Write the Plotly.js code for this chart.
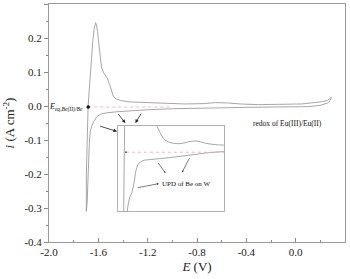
<!DOCTYPE html>
<html>
<head>
<meta charset="utf-8">
<script src="https://cdn.plot.ly/plotly-3.0.1.min.js"></script>
<style>html,body{margin:0;padding:0;background:#fff;}#chart{width:350px;height:279px;}</style>
</head>
<body>
<div id="chart"></div>
<script>
// Cathodic sweep (0.29 V -> -1.695 V)
var E_cath = [0.29, 0.28, 0.26, 0.24, 0.2, 0.1, 0.0, -0.2, -0.4, -0.6, -0.8, -1.0, -1.2, -1.35, -1.45, -1.53, -1.58, -1.611, -1.638, -1.655, -1.665, -1.672, -1.675, -1.684, -1.690, -1.695];
var i_cath = [0.025, 0.016, 0.009, 0.006, 0.002, -0.002, -0.003, -0.003, -0.004, -0.005, -0.006, -0.008, -0.011, -0.014, -0.017, -0.020, -0.024, -0.031, -0.046, -0.060, -0.075, -0.100, -0.148, -0.217, -0.280, -0.310];
// Anodic sweep (-1.697 V -> 0.29 V)
var E_anod = [-1.697, -1.697, -1.693, -1.688, -1.683, -1.675, -1.665, -1.655, -1.645, -1.635, -1.622, -1.615, -1.607, -1.598, -1.588, -1.575, -1.56, -1.543, -1.525, -1.51, -1.495, -1.48, -1.46, -1.42, -1.35, -1.25, -1.1, -0.9, -0.75, -0.65, -0.55, -0.45, -0.3, -0.1, 0.05, 0.15, 0.22, 0.26, 0.28, 0.29];
var i_anod = [-0.310, -0.200, -0.100, -0.030, 0.000, 0.040, 0.080, 0.140, 0.190, 0.225, 0.245, 0.238, 0.220, 0.190, 0.145, 0.115, 0.100, 0.090, 0.080, 0.065, 0.045, 0.030, 0.022, 0.016, 0.012, 0.011, 0.008, 0.006, 0.007, 0.010, 0.009, 0.006, 0.004, 0.004, 0.006, 0.010, 0.013, 0.017, 0.022, 0.026];
// Equilibrium potential marker and reference line
var E_eq = [-1.682];
var i_eq = [-0.003];
var E_eqLine = [-1.682, -1.0];
var i_eqLine = [-0.003, -0.003];

// Inset (magnified view)
var E_in_anodRise = [-1.6985, -1.6950];
var i_in_anodRise = [-0.090, 0.040];
var E_in_anodDecay = [-1.5667, -1.5587, -1.5469, -1.535, -1.5152, -1.4756, -1.436, -1.4082, -1.3765, -1.3369, -1.3012];
var i_in_anodDecay = [0.040, 0.0339, 0.0247, 0.0186, 0.0148, 0.0132, 0.0163, 0.0171, 0.0140, 0.0117, 0.0109];
var E_in_upd = [-1.3012, -1.3567, -1.436, -1.5152, -1.5944, -1.6221, -1.638, -1.6459, -1.6519, -1.6558, -1.6598, -1.6657, -1.6736, -1.6796, -1.6843];
var i_in_upd = [0.0010, -0.0005, -0.0044, -0.0082, -0.0113, -0.0128, -0.0166, -0.0228, -0.0319, -0.0426, -0.0518, -0.0610, -0.0686, -0.0778, -0.0900];
var E_in_eq = [-1.6896];
var i_in_eq = [0.0];
var E_in_eqLine = [-1.6896, -1.30];
var i_in_eqLine = [0.0, 0.0];

var xTickVals = [-2.0, -1.6, -1.2, -0.8, -0.4, 0.0, 0.4];
var xTickText = ['-2.0', '-1.6', '-1.2', '-0.8', '-0.4', '0.0', '0.4'];
var yTickVals = [-0.4, -0.3, -0.2, -0.1, 0.0, 0.1, 0.2, 0.3];
var yTickText = ['-0.4', '-0.3', '-0.2', '-0.1', '0.0', '0.1', '0.2', '0.3'];

var serif = "'Liberation Serif'";
var curveColor = '#9c9c9c';
var redColor = '#f2a6a6';

var traces = [
  {x: E_cath.concat(E_anod), y: i_cath.concat(i_anod), mode: 'lines', line: {color: curveColor, width: 0.9}, hoverinfo: 'skip'},
  {x: E_eqLine, y: i_eqLine, mode: 'lines', line: {color: redColor, width: 0.8, dash: 'dot'}},
  {x: E_eq, y: i_eq, mode: 'markers', marker: {color: '#111', size: 3.5}},
  {x: E_in_anodRise, y: i_in_anodRise, xaxis: 'x2', yaxis: 'y2', mode: 'lines', line: {color: curveColor, width: 0.9}},
  {x: E_in_anodDecay, y: i_in_anodDecay, xaxis: 'x2', yaxis: 'y2', mode: 'lines', line: {color: curveColor, width: 0.9, shape: 'spline'}},
  {x: E_in_upd, y: i_in_upd, xaxis: 'x2', yaxis: 'y2', mode: 'lines', line: {color: curveColor, width: 0.9, shape: 'spline'}},
  {x: E_in_eqLine, y: i_in_eqLine, xaxis: 'x2', yaxis: 'y2', mode: 'lines', line: {color: redColor, width: 0.8, dash: 'dot'}},
  {x: E_in_eq, y: i_in_eq, xaxis: 'x2', yaxis: 'y2', mode: 'markers', marker: {color: '#666', size: 2}}
];

function arrow(x, y, ax, ay, size, width) {
  return {x: x, y: y, xref: 'x', yref: 'y', ax: ax, ay: ay, axref: 'pixel', ayref: 'pixel',
    showarrow: true, arrowhead: 2, arrowsize: size, arrowwidth: width, arrowcolor: '#222', text: ''};
}

var layout = {
  width: 350, height: 279,
  margin: {l: 49, r: 5, t: 4, b: 37},
  paper_bgcolor: '#fff', plot_bgcolor: '#fff',
  showlegend: false,
  font: {family: serif, color: '#222'},
  xaxis: {
    range: [-2.0, 0.4], tickvals: xTickVals, ticktext: xTickText,
    ticks: 'inside', ticklen: 4, tickcolor: '#888', tickwidth: 1,
    minor: {ticks: 'inside', ticklen: 2, dtick: 0.2, tick0: -2.0, tickcolor: '#888'},
    showline: true, linecolor: '#999', linewidth: 1, mirror: true,
    showgrid: false, zeroline: false,
    tickfont: {family: serif, size: 11, color: '#222'},
    title: {text: '<i>E</i> (V)', font: {family: serif, size: 13, color: '#222'}, standoff: 4}
  },
  yaxis: {
    range: [-0.4, 0.3], tickvals: yTickVals, ticktext: yTickText,
    ticks: 'outside', ticklen: 4, tickcolor: '#888', tickwidth: 1,
    minor: {ticks: 'outside', ticklen: 2, dtick: 0.05, tick0: 0, tickcolor: '#888'},
    showline: true, linecolor: '#999', linewidth: 1, mirror: true,
    showgrid: false, zeroline: false,
    tickfont: {family: serif, size: 11, color: '#222'},
    title: {text: '<i>i</i> (A cm<sup>-2</sup>)', font: {family: serif, size: 13, color: '#222'}, standoff: 6}
  },
  xaxis2: {
    domain: [0.234, 0.592], anchor: 'y2', range: [-1.72, -1.30],
    showline: true, linecolor: '#b0b0b0', linewidth: 1, mirror: true,
    showticklabels: false, ticks: '', showgrid: false, zeroline: false
  },
  yaxis2: {
    domain: [0.130, 0.487], anchor: 'x2', range: [-0.09, 0.04],
    showline: true, linecolor: '#b0b0b0', linewidth: 1, mirror: true,
    showticklabels: false, ticks: '', showgrid: false, zeroline: false
  },
  annotations: [
    {x: -1.697, y: -0.0044, xref: 'x', yref: 'y', xanchor: 'right', yanchor: 'middle', showarrow: false, xshift: -1,
     text: '<i>E</i><sub><i>eq,Be(II)/Be</i></sub>', font: {family: serif, size: 8, color: '#111'}},
    {x: -0.066, y: -0.050, xref: 'x', yref: 'y', showarrow: false,
     text: 'redox of Eu(III)/Eu(II)', font: {family: serif, size: 7.5, color: '#111'}},
    {x: -0.890, y: -0.2293, xref: 'x', yref: 'y', showarrow: false,
     text: 'UPD of Be on W', font: {family: serif, size: 7, color: '#111'}},
    arrow(-1.4485, -0.0748, -18.4, -5.7, 0.9, 0.8),
    arrow(-1.381, -0.0502, -8.3, -10.6, 0.9, 0.8),
    arrow(-1.300, -0.0502, 6.7, -11, 0.9, 0.8),
    arrow(-1.1107, -0.2284, -22.3, 4.3, 0.6, 0.6),
    arrow(-1.0563, -0.1970, -8.3, -11.6, 0.6, 0.6),
    arrow(-0.9209, -0.1952, 8.3, -16, 0.6, 0.6)
  ]
};

Plotly.newPlot('chart', traces, layout, {staticPlot: true, displayModeBar: false});
</script>
</body>
</html>
